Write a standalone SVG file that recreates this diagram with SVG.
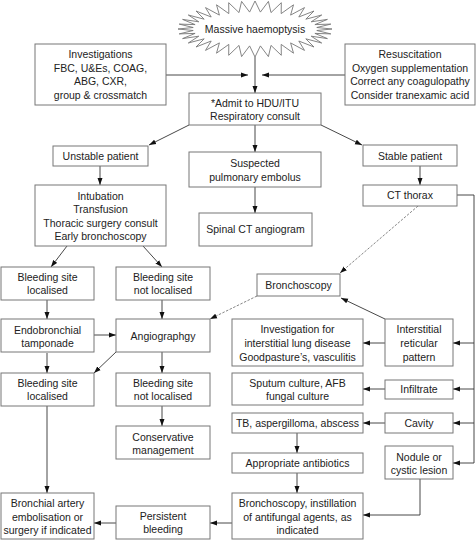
<svg xmlns="http://www.w3.org/2000/svg" width="476" height="540" viewBox="0 0 476 540">
<defs>
<marker id="ah" markerUnits="userSpaceOnUse" markerWidth="8" markerHeight="6" refX="7" refY="3" orient="auto"><path d="M0,0.5 L7,3 L0,5.5 Z" fill="#111"/></marker>
<style>
.b{fill:#fff;stroke:#777;stroke-width:1}
text{font-family:"Liberation Sans",Arial,sans-serif;font-size:10.5px;fill:#222;text-anchor:middle}
.c{fill:none;stroke:#333;stroke-width:0.9;marker-end:url(#ah)}
.n{fill:none;stroke:#333;stroke-width:0.9}
.d{fill:none;stroke:#777;stroke-width:0.9;stroke-dasharray:2.5,1.5;marker-end:url(#ah)}
</style>
</defs>
<rect width="476" height="540" fill="#fff"/>
<g id="connectors">
<path class="c" d="M255,57 V93"/>
<path class="c" d="M166,75 H248"/>
<path class="c" d="M345,75 H262"/>
<path class="c" d="M189,125 L149,145"/>
<path class="c" d="M255,125 V152"/>
<path class="c" d="M321,125 L362,145"/>
<path class="c" d="M100,166 V185"/>
<path class="c" d="M255,187 V213"/>
<path class="c" d="M420,166 V185"/>
<path class="c" d="M67,246 L51,267"/>
<path class="c" d="M143,246 L162,267"/>
<path class="c" d="M47,300 V319"/>
<path class="c" d="M162,300 V319"/>
<path class="c" d="M94,335 H116"/>
<path class="d" d="M418,206 L340,273"/>
<path class="d" d="M257,296 L210,319"/>
<path class="c" d="M385,319 L341,298"/>
<path class="n" d="M457,195 H474 V463"/>
<path class="c" d="M474,343 H453"/>
<path class="c" d="M474,389 H453"/>
<path class="c" d="M474,423 H453"/>
<path class="c" d="M474,463 H453"/>
<path class="c" d="M385,343 H363"/>
<path class="c" d="M385,389 H363"/>
<path class="c" d="M385,423 H363"/>
<path class="c" d="M47,353 V373"/>
<path class="c" d="M116,352 L94,373"/>
<path class="c" d="M162,352 V373"/>
<path class="c" d="M162,406 V426"/>
<path class="c" d="M47,406 V493"/>
<path class="c" d="M297,433 V453"/>
<path class="c" d="M297,473 V493"/>
<path class="c" d="M420,479 V515 H363"/>
<path class="c" d="M232,523 H210"/>
<path class="c" d="M116,523 H94"/>
</g>
<g id="start">
<polygon fill="#fff" stroke="#777" stroke-width="0.9" points="332,29 316.8,27.5 330.8,24.1 314.9,24.6 327.4,19.4 311.2,21.8 321.7,15 305.8,19.2 314,11 298.8,17 304.5,7.6 290.6,15.1 293.5,4.8 281.2,13.6 281.3,2.7 271,12.6 268.4,1.4 260.4,12.1 255,1 249.6,12.1 241.6,1.4 239,12.6 228.7,2.7 228.8,13.6 216.5,4.8 219.4,15.1 205.5,7.6 211.2,17 196,11 204.2,19.2 188.3,15 198.8,21.8 182.6,19.4 195.1,24.6 179.2,24.1 193.2,27.5 178,29 193.2,30.5 179.2,33.9 195.1,33.4 182.6,38.6 198.8,36.2 188.3,43 204.2,38.8 196,47 211.2,41 205.5,50.4 219.4,42.9 216.5,53.2 228.8,44.4 228.7,55.3 239,45.4 241.6,56.6 249.6,45.9 255,57 260.4,45.9 268.4,56.6 271,45.4 281.3,55.3 281.2,44.4 293.5,53.2 290.6,42.9 304.5,50.4 298.8,41 314,47 305.8,38.8 321.7,43 311.2,36.2 327.4,38.6 314.9,33.4 330.8,33.9 316.8,30.5"/>
<text x="255" y="33">Massive haemoptysis</text>
</g>
<g id="investigations"><rect class="b" x="35" y="44" width="131" height="61"/><text x="100.5" y="58.3">Investigations</text><text x="100.5" y="71.8">FBC, U&amp;Es, COAG,</text><text x="100.5" y="85.3">ABG, CXR,</text><text x="100.5" y="98.8">group &amp; crossmatch</text></g>
<g id="resuscitation"><rect class="b" x="345" y="44" width="130" height="61"/><text x="410" y="58.3">Resuscitation</text><text x="410" y="71.8">Oxygen supplementation</text><text x="410" y="85.3">Correct any coagulopathy</text><text x="410" y="98.8">Consider tranexamic acid</text></g>
<g id="admit"><rect class="b" x="189" y="93" width="132" height="32"/><text x="255" y="106.5">*Admit to HDU/ITU</text><text x="255" y="119.5">Respiratory consult</text></g>
<g id="unstable"><rect class="b" x="53" y="146" width="95" height="20"/><text x="100.5" y="160">Unstable patient</text></g>
<g id="suspected"><rect class="b" x="189" y="152" width="132" height="35"/><text x="255" y="166.5">Suspected</text><text x="255" y="180.5">pulmonary embolus</text></g>
<g id="stable"><rect class="b" x="363" y="145" width="94" height="21"/><text x="410" y="159.5">Stable patient</text></g>
<g id="intubation"><rect class="b" x="35" y="185" width="131" height="61"/><text x="100.5" y="199.8">Intubation</text><text x="100.5" y="213">Transfusion</text><text x="100.5" y="226.5">Thoracic surgery consult</text><text x="100.5" y="239.8">Early bronchoscopy</text></g>
<g id="spinalct"><rect class="b" x="199" y="213" width="113" height="33"/><text x="255.5" y="233.3">Spinal CT angiogram</text></g>
<g id="ctthorax"><rect class="b" x="363" y="185" width="94" height="21"/><text x="410" y="199.3">CT thorax</text></g>
<g id="bsl1"><rect class="b" x="1" y="267" width="93" height="33"/><text x="47.5" y="280.5">Bleeding site</text><text x="47.5" y="293.5">localised</text></g>
<g id="bsnl1"><rect class="b" x="116" y="267" width="94" height="33"/><text x="163" y="280.5">Bleeding site</text><text x="163" y="293.5">not localised</text></g>
<g id="bronchoscopy"><rect class="b" x="257" y="274" width="83" height="22"/><text x="298.5" y="288.5">Bronchoscopy</text></g>
<g id="endobronchial"><rect class="b" x="1" y="319" width="93" height="33"/><text x="47.5" y="333.5">Endobronchial</text><text x="47.5" y="347">tamponade</text></g>
<g id="angiography"><rect class="b" x="116" y="319" width="94" height="33"/><text x="163" y="339.5">Angiographgy</text></g>
<g id="ild"><rect class="b" x="232" y="319" width="131" height="47"/><text x="297.5" y="333">Investigation for</text><text x="297.5" y="347">interstitial lung disease</text><text x="297.5" y="361">Goodpasture’s, vasculitis</text></g>
<g id="interstitial"><rect class="b" x="385" y="319" width="68" height="47"/><text x="419" y="333">Interstitial</text><text x="419" y="347">reticular</text><text x="419" y="361">pattern</text></g>
<g id="bsl2"><rect class="b" x="1" y="373" width="93" height="33"/><text x="47.5" y="387">Bleeding site</text><text x="47.5" y="400">localised</text></g>
<g id="bsnl2"><rect class="b" x="116" y="373" width="94" height="33"/><text x="163" y="387">Bleeding site</text><text x="163" y="400">not localised</text></g>
<g id="sputum"><rect class="b" x="232" y="373" width="131" height="32"/><text x="297.5" y="387">Sputum culture, AFB</text><text x="297.5" y="400">fungal culture</text></g>
<g id="infiltrate"><rect class="b" x="385" y="380" width="68" height="19"/><text x="419" y="393">Infiltrate</text></g>
<g id="tb"><rect class="b" x="232" y="413" width="131" height="20"/><text x="297.5" y="426.5">TB, aspergilloma, abscess</text></g>
<g id="cavity"><rect class="b" x="385" y="413" width="68" height="20"/><text x="419" y="426.5">Cavity</text></g>
<g id="conservative"><rect class="b" x="116" y="426" width="94" height="33"/><text x="163" y="440.5">Conservative</text><text x="163" y="453.5">management</text></g>
<g id="antibiotics"><rect class="b" x="232" y="453" width="131" height="20"/><text x="297.5" y="466.5">Appropriate antibiotics</text></g>
<g id="nodule"><rect class="b" x="385" y="446" width="68" height="33"/><text x="419" y="460.5">Nodule or</text><text x="419" y="473.5">cystic lesion</text></g>
<g id="bronchial"><rect class="b" x="1" y="493" width="93" height="46"/><text x="47.5" y="507">Bronchial artery</text><text x="47.5" y="520.5">embolisation or</text><text x="47.5" y="534">surgery if indicated</text></g>
<g id="persistent"><rect class="b" x="116" y="506" width="94" height="33"/><text x="163" y="519.8">Persistent</text><text x="163" y="533">bleeding</text></g>
<g id="instillation"><rect class="b" x="232" y="493" width="131" height="46"/><text x="297.5" y="507">Bronchoscopy, instillation</text><text x="297.5" y="520.5">of antifungal agents, as</text><text x="297.5" y="534">indicated</text></g>
</svg>
